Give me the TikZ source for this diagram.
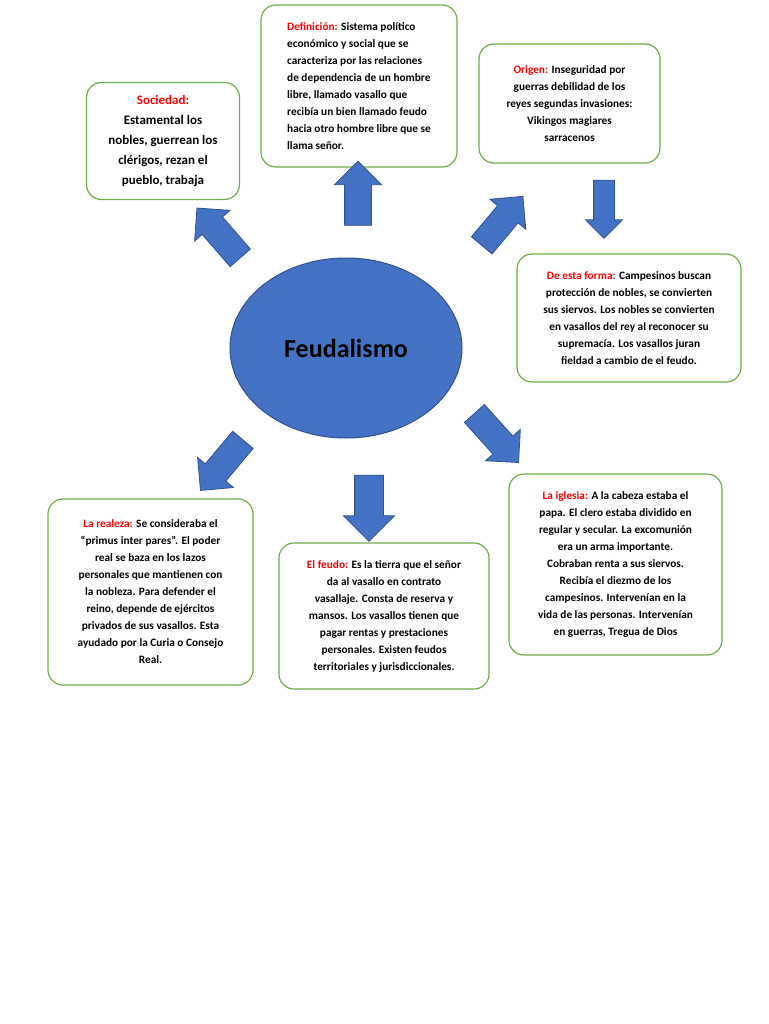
\documentclass[tikz,border=0pt]{standalone}
\usepackage{fontspec}
\setmainfont{Carlito}
\usetikzlibrary{shapes.geometric,shapes.arrows}
\definecolor{bl}{HTML}{4472C4}
\definecolor{bld}{HTML}{2F528F}
\definecolor{gr}{HTML}{70AD47}
\definecolor{rd}{HTML}{FF0000}
\tikzset{
 box/.style={draw=gr,line width=1.2pt,rounded corners=15pt,fill=white,align=center,font=\bfseries\fontsize{11.3}{17}\selectfont,inner sep=0pt},
 barrow/.style={single arrow,draw=bld,fill=bl,line width=0.8pt,single arrow head extend=10pt,single arrow tip angle=90,inner xsep=0pt,inner ysep=13pt,minimum width=0pt},
}
\newcommand{\hd}[1]{\textcolor{rd}{#1}}
\begin{document}
\begin{tikzpicture}[x=1pt,y=-1pt]
\useasboundingbox[fill=white] (0,0) rectangle (768,1024);
\node[box,minimum width=153,minimum height=117,font=\bfseries\fontsize{13}{20}\selectfont] (soc) at (163,141) {\hd{Sociedad:}\\Estamental los\\nobles, guerrean los\\clérigos, rezan el\\pueblo, trabaja};
\node[box,minimum width=196,minimum height=162,align=left] (def) at (359,86) {\hd{Definición:} Sistema político\\económico y social que se\\caracteriza por las relaciones\\de dependencia de un hombre\\libre, llamado vasallo que\\recibía un bien llamado feudo\\hacia otro hombre libre que se\\llama señor.};
\node[box,minimum width=181,minimum height=119] (ori) at (569.5,103.5) {\hd{Origen:} Inseguridad por\\guerras debilidad de los\\reyes segundas invasiones:\\Vikingos magiares\\sarracenos};
\node[box,minimum width=224,minimum height=128] (for) at (629,318) {\hd{De esta forma:} Campesinos buscan\\protección de nobles, se convierten\\sus siervos. Los nobles se convierten\\en vasallos del rey al reconocer su\\supremacía. Los vasallos juran\\fieldad a cambio de el feudo.};
\node[box,minimum width=213,minimum height=181] (igl) at (615.5,564.5) {\hd{La iglesia:} A la cabeza estaba el\\papa. El clero estaba dividido en\\regular y secular. La excomunión\\era un arma importante.\\Cobraban renta a sus siervos.\\Recibía el diezmo de los\\campesinos. Intervenían en la\\vida de las personas. Intervenían\\en guerras, Tregua de Dios};
\node[box,minimum width=210,minimum height=146] (feu) at (384,616) {\hd{El feudo:} Es la tierra que el señor\\da al vasallo en contrato\\vasallaje. Consta de reserva y\\mansos. Los vasallos tienen que\\pagar rentas y prestaciones\\personales. Existen feudos\\territoriales y jurisdiccionales.};
\node[box,minimum width=205,minimum height=186] (rea) at (150.5,592) {\hd{La realeza:} Se consideraba el\\“primus inter pares”. El poder\\real se baza en los lazos\\personales que mantienen con\\la nobleza. Para defender el\\reino, depende de ejércitos\\privados de sus vasallos. Esta\\ayudado por la Curia o Consejo\\Real.};
\node[ellipse,draw=bld,fill=bl,line width=1pt,minimum width=232,minimum height=180,font=\bfseries\fontsize{26}{30}\selectfont] (fe) at (346,348) {Feudalismo};
% arrows
\node[barrow,rotate=90,minimum height=64] (a1) at (358,200) {};
\node[barrow,rotate=131,minimum height=66] (a2) at (223,238) {};
\node[barrow,rotate=50,minimum height=64] (a3) at (498,226) {};
\node[barrow,rotate=-90,minimum height=58,inner ysep=10pt,single arrow head extend=8pt] (a4) at (604,204) {};
\node[barrow,rotate=-48,minimum height=66] (a5) at (492,433) {};
\node[barrow,rotate=-90,minimum height=66,inner ysep=14pt,single arrow head extend=11pt] (a6) at (369,501) {};
\node[barrow,rotate=-130,minimum height=66] (a7) at (226,460) {};
\end{tikzpicture}
\end{document}
